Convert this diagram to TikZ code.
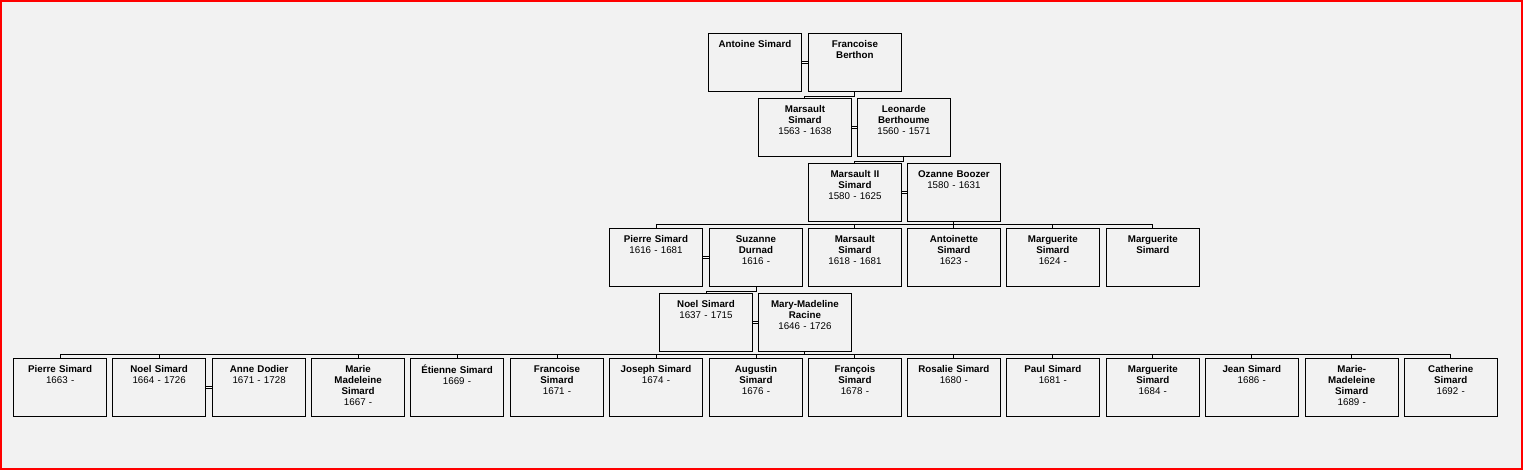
\documentclass[tikz,border=0pt]{standalone}
\usepackage{fontspec}
\setmainfont{Liberation Sans}
\usetikzlibrary{calc}
\begin{document}
\begin{tikzpicture}[x=1bp,y=-1bp,
  pbox/.style={draw=black,line width=0.9bp,fill=white!95!black,minimum width=93bp,minimum height=58bp,inner sep=0pt},
  ptext/.style={anchor=north,align=center,text width=88bp,font=\fontsize{9.8}{11}\selectfont,inner sep=0pt},
  conn/.style={draw=black,line width=0.9bp},
  marr/.style={draw=black,line width=0.7bp,double distance=1.6bp}]
\fill[white!95!black] (0,0) rectangle (1523,470);
\draw[red,line width=2.5bp] (1,1) rectangle (1522,469);
\newcommand\pb[5]{%
  \node[pbox,anchor=north west] (#1) at (#2,#3) {};
  \node[ptext] (#1t) at ($(#1.north)+(0,7)$) {\textbf{#4}\\#5};}
% row 1
\pb{antoine}{708}{33}{Antoine Simard}{}
\pb{francoise}{808}{33}{Francoise\\Berthon}{}
% row 2
\pb{marsault}{758}{98}{Marsault\\Simard}{1563 - 1638}
\pb{leonarde}{857}{98}{Leonarde\\Berthoume}{1560 - 1571}
% row 3
\pb{marsaultii}{808}{163}{Marsault II\\Simard}{1580 - 1625}
\pb{ozanne}{907}{163}{Ozanne Boozer}{1580 - 1631}
% row 4
\pb{pierre}{609}{228}{Pierre Simard}{1616 - 1681}
\pb{suzanne}{709}{228}{Suzanne\\Durnad}{1616 -}
\pb{marsaultb}{808}{228}{Marsault\\Simard}{1618 - 1681}
\pb{antoinette}{907}{228}{Antoinette\\Simard}{1623 -}
\pb{marguerite}{1006}{228}{Marguerite\\Simard}{1624 -}
\pb{margueriteb}{1106}{228}{Marguerite\\Simard}{}
% row 5
\pb{noel}{659}{293}{Noel Simard}{1637 - 1715}
\pb{mary}{758}{293}{Mary-Madeline\\Racine}{1646 - 1726}
% row 6
\pb{c1}{13}{358}{Pierre Simard}{1663 -}
\pb{c2}{112}{358}{Noel Simard}{1664 - 1726}
\pb{anne}{212}{358}{Anne Dodier}{1671 - 1728}
\pb{c4}{311}{358}{Marie\\Madeleine\\Simard}{1667 -}
\pb{c5}{410}{358}{Étienne Simard}{1669 -}
\pb{c6}{510}{358}{Francoise\\Simard}{1671 -}
\pb{c7}{609}{358}{Joseph Simard}{1674 -}
\pb{c8}{709}{358}{Augustin\\Simard}{1676 -}
\pb{c9}{808}{358}{François\\Simard}{1678 -}
\pb{c10}{907}{358}{Rosalie Simard}{1680 -}
\pb{c11}{1006}{358}{Paul Simard}{1681 -}
\pb{c12}{1106}{358}{Marguerite\\Simard}{1684 -}
\pb{c13}{1205}{358}{Jean Simard}{1686 -}
\pb{c14}{1305}{358}{Marie-\\Madeleine\\Simard}{1689 -}
\pb{c15}{1404}{358}{Catherine\\Simard}{1692 -}
% marriages
\draw[marr] (antoine.east) -- (francoise.west);
\draw[marr] (marsault.east) -- (leonarde.west);
\draw[marr] (marsaultii.east) -- (ozanne.west);
\draw[marr] (pierre.east) -- (suzanne.west);
\draw[marr] (noel.east) -- (mary.west);
\draw[marr] (c2.east) -- (anne.west);
% descent
\draw[conn] (francoise.south) -- ++(0,4) -| (marsault.north);
\draw[conn] (leonarde.south) -- ++(0,4) -| (marsaultii.north);
\draw[conn] (suzanne.south) -- ++(0,4) -| (noel.north);
\coordinate (r4) at (0,224);
\draw[conn] (ozanne.south) -- (ozanne.south|-r4);
\draw[conn] (pierre.north|-r4) -- (margueriteb.north|-r4);
\foreach \n in {pierre,marsaultb,antoinette,marguerite,margueriteb}
  \draw[conn] (\n.north|-r4) -- (\n.north);
\coordinate (r6) at (0,354);
\draw[conn] (mary.south) -- (mary.south|-r6);
\draw[conn] (c1.north|-r6) -- (c15.north|-r6);
\foreach \n in {c1,c2,c4,c5,c6,c7,c8,c9,c10,c11,c12,c13,c14,c15}
  \draw[conn] (\n.north|-r6) -- (\n.north);
\end{tikzpicture}
\end{document}
